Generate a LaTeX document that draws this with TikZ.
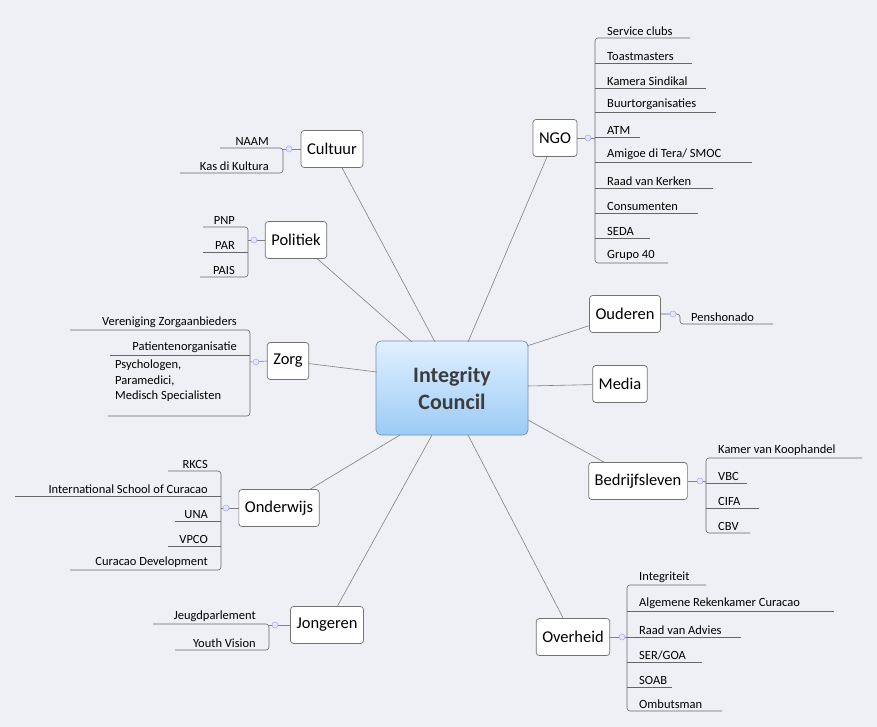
\documentclass[tikz,border=0pt]{standalone}
\usepackage{fontspec}
\setmainfont{Carlito}
\begin{document}
\begin{tikzpicture}[x=1pt,y=-1pt,
  topic/.style={draw=black!55,fill=white,rounded corners=3pt,font=\fontsize{16.5}{18}\selectfont,inner xsep=6pt,minimum height=37pt,line width=0.7pt},
  lr/.style={anchor=south west,font=\fontsize{12.5}{14}\selectfont,inner sep=1pt},
  ll/.style={anchor=south east,font=\fontsize{12.5}{14}\selectfont,inner sep=1pt,align=left},
  ln/.style={draw=black!60,line width=0.6pt},
  br/.style={draw=black!60,line width=0.6pt,rounded corners=3pt},
  mk/.style={circle,draw=blue!35,fill=blue!10,inner sep=0pt,minimum size=6pt,line width=0.5pt},
  con/.style={draw=black!50,line width=0.6pt}]
\fill[fill={rgb,255:red,239;green,240;blue,245}] (0,0) rectangle (877,727);
\useasboundingbox (0,0) rectangle (877,727);
% center
\node[draw={rgb,255:red,110;green,145;blue,185},rounded corners=5pt,top color={rgb,255:red,225;green,240;blue,255},bottom color={rgb,255:red,155;green,203;blue,245},minimum width=152pt,minimum height=94pt,align=center,font=\fontsize{22}{27}\selectfont\bfseries,text={rgb,255:red,60;green,60;blue,60},line width=0.7pt] (c) at (452,388) {Integrity\\Council};
% topics
\node[topic] (cul) at (332,149) {Cultuur};
\node[topic] (pol) at (296,240) {Politiek};
\node[topic] (zor) at (288,361) {Zorg};
\node[topic] (ond) at (279,508) {Onderwijs};
\node[topic] (jon) at (327,625) {Jongeren};
\node[topic] (ngo) at (555,138) {NGO};
\node[topic] (oud) at (625,314) {Ouderen};
\node[topic] (med) at (620,384) {Media};
\node[topic] (bed) at (638,481) {Bedrijfsleven};
\node[topic] (ove) at (573,637) {Overheid};
\coordinate (c1) at (435,342); \coordinate (c2) at (412,342);
\coordinate (c3) at (377,372); \coordinate (c4) at (400,435);
\coordinate (c5) at (432,435); \coordinate (c6) at (468,342);
\coordinate (c7) at (527,346); \coordinate (c8) at (528,386);
\coordinate (c9) at (528,420); \coordinate (c10) at (468,435);
\draw[con] (c1) -- (cul); \draw[con] (c2) -- (pol); \draw[con] (c3) -- (zor);
\draw[con] (c4) -- (ond); \draw[con] (c5) -- (jon); \draw[con] (c6) -- (ngo);
\draw[con] (c7) -- (oud); \draw[con] (c8) -- (med); \draw[con] (c9) -- (bed);
\draw[con] (c10) -- (ove);
% NGO
\draw[br] (690,38) -- (595,38) -- (595,263) -- (668,263);
\foreach \y/\e in {63/692,88/706,112/716,137/640,162/752,188/713,213/698,238/650}{\draw[ln] (595,\y) -- (\e,\y);}
\draw[con] (ngo.east) -- (595,138);
\node[mk] (mngo) at (588,138) {};
\node[lr] (n1) at (606,37) {Service clubs};
\node[lr] (n2) at (606,62) {Toastmasters};
\node[lr] (n3) at (606,87) {Kamera Sindikal};
\node[lr] (n4) at (606,111) {Buurtorganisaties};
\node[lr] (n5) at (606,136) {ATM};
\node[lr] (n6) at (606,161) {Amigoe di Tera/ SMOC};
\node[lr] (n7) at (606,187) {Raad van Kerken};
\node[lr] (n8) at (606,212) {Consumenten};
\node[lr] (n9) at (606,237) {SEDA};
\node[lr] (n10) at (606,262) {Grupo 40};
% Ouderen
\draw[br] (oud.east) -- (680,314) -- (680,324) -- (773,324);
\node[mk] (moud) at (673,314) {};
\node[lr] (o1) at (690,323) {Penshonado};
% Bedrijfsleven
\draw[br] (862,458) -- (706,458) -- (706,533) -- (750,533);
\foreach \y/\e in {483/747,508/759}{\draw[ln] (706,\y) -- (\e,\y);}
\draw[con] (bed.east) -- (706,481);
\node[mk] (mbed) at (700,481) {};
\node[lr] (b1) at (717,457) {Kamer van Koophandel};
\node[lr] (b2) at (717,482) {VBC};
\node[lr] (b3) at (717,507) {CIFA};
\node[lr] (b4) at (717,532) {CBV};
% Overheid
\draw[br] (706,585) -- (627,585) -- (627,711) -- (722,711);
\foreach \y/\e in {611/834,637/741,662/702,687/672}{\draw[ln] (627,\y) -- (\e,\y);}
\draw[con] (ove.east) -- (627,637);
\node[mk] (move) at (622,637) {};
\node[lr] (v1) at (638,584) {Integriteit};
\node[lr] (v2) at (638,610) {Algemene Rekenkamer Curacao};
\node[lr] (v3) at (638,636) {Raad van Advies};
\node[lr] (v4) at (638,661) {SER/GOA};
\node[lr] (v5) at (638,686) {SOAB};
\node[lr] (v6) at (638,710) {Ombutsman};
% Cultuur
\draw[br] (220,148) -- (283,148) -- (283,173) -- (180,173);
\draw[con] (cul.west) -- (283,149);
\node[mk] (mcul) at (289,149) {};
\node[ll] (k1) at (270,147) {NAAM};
\node[ll] (k2) at (270,172) {Kas di Kultura};
% Politiek
\draw[br] (203,227) -- (248,227) -- (248,277) -- (200,277);
\draw[ln] (248,252) -- (203,252);
\draw[con] (pol.west) -- (248,240);
\node[mk] (mpol) at (254,240) {};
\node[ll] (p1) at (236,226) {PNP};
\node[ll] (p2) at (236,251) {PAR};
\node[ll] (p3) at (236,276) {PAIS};
% Zorg
\draw[br] (70,330) -- (250,330) -- (250,416) -- (108,416);
\draw[ln] (250,355) -- (110,355);
\draw[con] (zor.west) -- (250,362);
\node[mk] (mzor) at (256,362) {};
\node[ll] (z1) at (238,329) {Vereniging Zorgaanbieders};
\node[ll] (z2) at (238,354) {Patientenorganisatie};
\node[anchor=north west,font=\fontsize{12.5}{15.5}\selectfont,inner sep=1pt,align=left] (z3) at (114,359) {Psychologen,\\Paramedici,\\Medisch Specialisten};
% Onderwijs
\draw[br] (168,471) -- (221,471) -- (221,570) -- (70,570);
\foreach \y/\s in {496/15,521/175,546/168}{\draw[ln] (221,\y) -- (\s,\y);}
\draw[con] (ond.west) -- (221,508);
\node[mk] (mond) at (226,508) {};
\node[ll] (w1) at (209,470) {RKCS};
\node[ll] (w2) at (209,495) {International School of Curacao};
\node[ll] (w3) at (209,520) {UNA};
\node[ll] (w4) at (209,545) {VPCO};
\node[ll] (w5) at (209,569) {Curacao Development};
% Jongeren
\draw[br] (153,624) -- (269,624) -- (269,650) -- (175,650);
\draw[con] (jon.west) -- (269,625);
\node[mk] (mjon) at (275,625) {};
\node[ll] (j1) at (257,623) {Jeugdparlement};
\node[ll] (j2) at (257,649) {Youth Vision};
\end{tikzpicture}
\end{document}
